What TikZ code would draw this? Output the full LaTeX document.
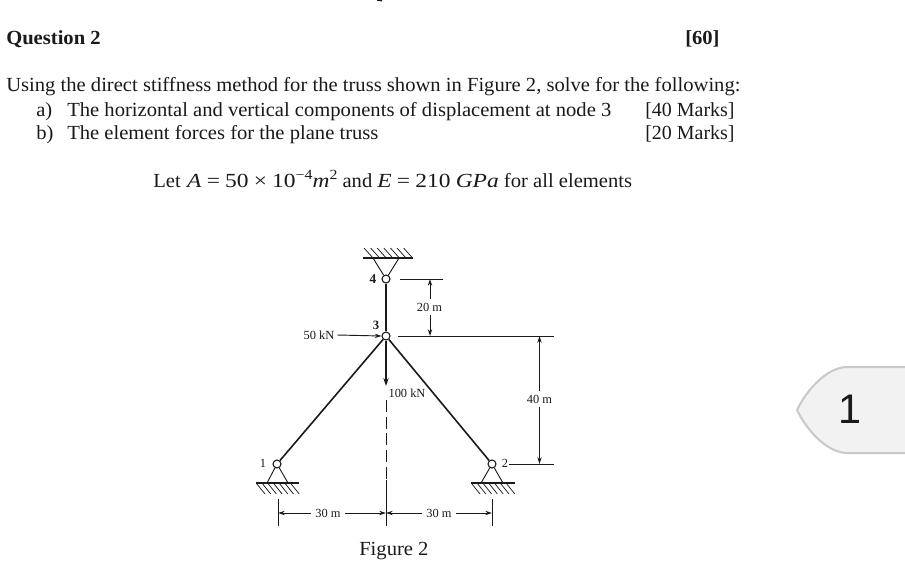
\documentclass[tikz,border=0pt]{standalone}
\usepackage{fontspec}
\usepackage{graphicx}
\setmainfont[FakeStretch=1.03]{Liberation Serif}
\newfontfamily\figfont{Liberation Serif}
\newfontfamily\tabfont{Liberation Sans}
\usetikzlibrary{arrows.meta}
\definecolor{ink}{HTML}{1A1A1A}
\definecolor{tabfill}{HTML}{F2F2F2}
\definecolor{tabedge}{HTML}{C9C9C9}
\newcommand{\mth}[1]{\scalebox{1.14}[1]{#1}}
\newcommand{\sups}[1]{\raisebox{5.5pt}{\scalebox{1.1}[1]{\fontsize{10.5pt}{12pt}\selectfont #1}}}
\tikzset{
  txt/.style={anchor=base west,inner sep=0pt,text=ink,font=\fontsize{15pt}{18pt}\selectfont},
  boldtxt/.style={txt,font=\bfseries\fontsize{15pt}{18pt}\selectfont},
  figlabel/.style={inner sep=0pt,text=ink,font=\figfont\fontsize{9.3pt}{10pt}\selectfont},
  joint/.style={circle,draw=ink,fill=white,line width=0.8pt,minimum size=6pt,inner sep=0pt},
  member/.style={draw=ink,line width=1.2pt},
  thinline/.style={draw=ink,line width=0.7pt},
  dim/.style={draw=ink,line width=0.7pt,-{Stealth[length=5pt,width=3.2pt]}},
  ground/.style={draw=ink,line width=1.1pt},
  hatch/.style={draw=ink,line width=0.55pt},
  dashline/.style={draw=ink,line width=0.7pt,dash pattern=on 9pt off 3.5pt}
}
\begin{document}
\begin{tikzpicture}[x=0.75pt,y=-0.75pt]
\useasboundingbox (0,0) rectangle (905,564);
\fill[white] (0,0) rectangle (905,564);
% text
\node[boldtxt] (q) at (6,44) {Question 2};
\node[boldtxt] (m) at (685,44) {[60]};
\node[txt] (u) at (6,91) {Using the direct stiffness method for the truss shown in Figure 2, solve for the following:};
\node[txt] (a) at (36,116) {a)};
\node[txt] (at) at (67,116) {The horizontal and vertical components of displacement at node 3};
\node[txt] (am) at (645,116) {\scalebox{0.97}[1]{[40 Marks]}};
\node[txt] (b) at (36,139) {b)};
\node[txt] (bt) at (67,139) {The element forces for the plane truss};
\node[txt] (bm) at (645,139) {\scalebox{0.97}[1]{[20 Marks]}};
\node[txt] (l) at (153,187) {Let\hspace{1pt} \mth{\textit{A}} \mth{=} \mth{50} \mth{×} \mth{10}\sups{−4}\mth{\textit{m}}\sups{2} and \mth{\textit{E}} \mth{=} \mth{210} \mth{\textit{GPa}} for all elements};
\node[txt] (f) at (359,555) {Figure 2};
% stub at the top edge
\draw[ink,line width=1pt] (377,0) -- (382,0.8);
% joints
\node[joint] (n1) at (277,464) {};
\node[joint] (n2) at (492,464) {};
\node[joint] (n3) at (386,336) {};
\node[joint] (n4) at (386,279) {};
% members
\draw[member] (n1) -- (n3);
\draw[member] (n2) -- (n3);
\draw[member] (n3) -- (n4);
% supports
\coordinate (s4l) at (373,258); \coordinate (s4r) at (399,258);
\draw[thinline] (s4l) -- (n4) -- (s4r);
\coordinate (g4a) at (363,258); \coordinate (g4b) at (413,258);
\draw[ground] (g4a) -- (g4b);
\foreach \i in {0,...,6} \draw[hatch] (364+6.6*\i,248) -- (373+6.6*\i,258);
\coordinate (s1l) at (267,483); \coordinate (s1r) at (288,483);
\draw[thinline] (s1l) -- (n1) -- (s1r);
\coordinate (g1a) at (256,483); \coordinate (g1b) at (299,483);
\draw[ground] (g1a) -- (g1b);
\foreach \i in {0,...,6} \draw[hatch] (257+5.7*\i,484) -- (265+5.7*\i,494);
\coordinate (s2l) at (481,483); \coordinate (s2r) at (503,483);
\draw[thinline] (s2l) -- (n2) -- (s2r);
\coordinate (g2a) at (471,483); \coordinate (g2b) at (515,483);
\draw[ground] (g2a) -- (g2b);
\foreach \i in {0,...,6} \draw[hatch] (472+5.8*\i,484) -- (480+5.8*\i,494);
% labels
\node[figlabel] (l1) at (263,463) {1};
\node[figlabel] (l2) at (505,463) {2};
\node[figlabel,font=\figfont\bfseries\fontsize{9.5pt}{10pt}\selectfont] (l3) at (376,325) {3};
\node[figlabel,font=\figfont\bfseries\fontsize{10pt}{10pt}\selectfont] (l4) at (373,279) {4};
% loads
\node[figlabel] (k50) at (319,335) {50 kN};
\draw[dim] (k50.east) ++(2pt,0) -- (n3.west);
\coordinate (c100) at (386,386);
\draw[draw=ink,line width=1pt,-{Stealth[length=6pt,width=4pt]}] (n3) -- (c100);
\node[figlabel] (k100) at (407,393) {100 kN};
\coordinate (cd1) at (386,400); \coordinate (cd2) at (386,480); \coordinate (cd3) at (386,526);
\draw[dashline] (cd1) -- (cd2);
\draw[thinline] (cd2) -- (cd3);
% dimension lines
\coordinate (e4a) at (400,279); \coordinate (e4b) at (443,279);
\coordinate (e3a) at (398,336); \coordinate (e3b) at (554,336);
\coordinate (e2a) at (509,464); \coordinate (e2b) at (554,464);
\draw[thinline] (e4a) -- (e4b);
\draw[thinline] (e3a) -- (e3b);
\draw[thinline] (e2a) -- (e2b);
\node[figlabel] (d20) at (429.5,307) {20 m};
\coordinate (a20t) at (430,279); \coordinate (a20b) at (430,336);
\draw[dim] (d20.north -| a20t) ++(0,3pt) -- (a20t);
\draw[dim] (d20.south -| a20b) ++(0,-3pt) -- (a20b);
\node[figlabel] (d40) at (539.5,399) {40 m};
\coordinate (a40t) at (539.5,336); \coordinate (a40b) at (539.5,464);
\draw[dim] (d40.north) ++(0,3pt) -- (a40t);
\draw[dim] (d40.south) ++(0,-3pt) -- (a40b);
% 30 m dimensions
\coordinate (t1a) at (278,499); \coordinate (t1b) at (278,526);
\coordinate (t2a) at (492,499); \coordinate (t2b) at (492,526);
\draw[thinline] (t1a) -- (t1b);
\draw[thinline] (t2a) -- (t2b);
\coordinate (dl) at (278,513); \coordinate (dm) at (386,513); \coordinate (dr) at (492,513);
\node[figlabel] (d30l) at (328,513) {30 m};
\node[figlabel] (d30r) at (439,513) {30 m};
\draw[dim] (d30l.west) ++(-3pt,0) -- (dl);
\draw[dim] (d30l.east) ++(3pt,0) -- (dm);
\draw[dim] (d30r.west) ++(-3pt,0) -- (dm);
\draw[dim] (d30r.east) ++(3pt,0) -- (dr);
% page tab
\draw[draw=tabedge,fill=tabfill,line width=1.5pt] (906,367) -- (846,367) .. controls (826,368) and (806,391) .. (797,410) .. controls (806,429) and (826,452) .. (846,453) -- (906,453);
\node[inner sep=0pt,text=ink,font=\tabfont\fontsize{31pt}{34pt}\selectfont] (tab) at (850,409) {1};
\end{tikzpicture}
\end{document}
